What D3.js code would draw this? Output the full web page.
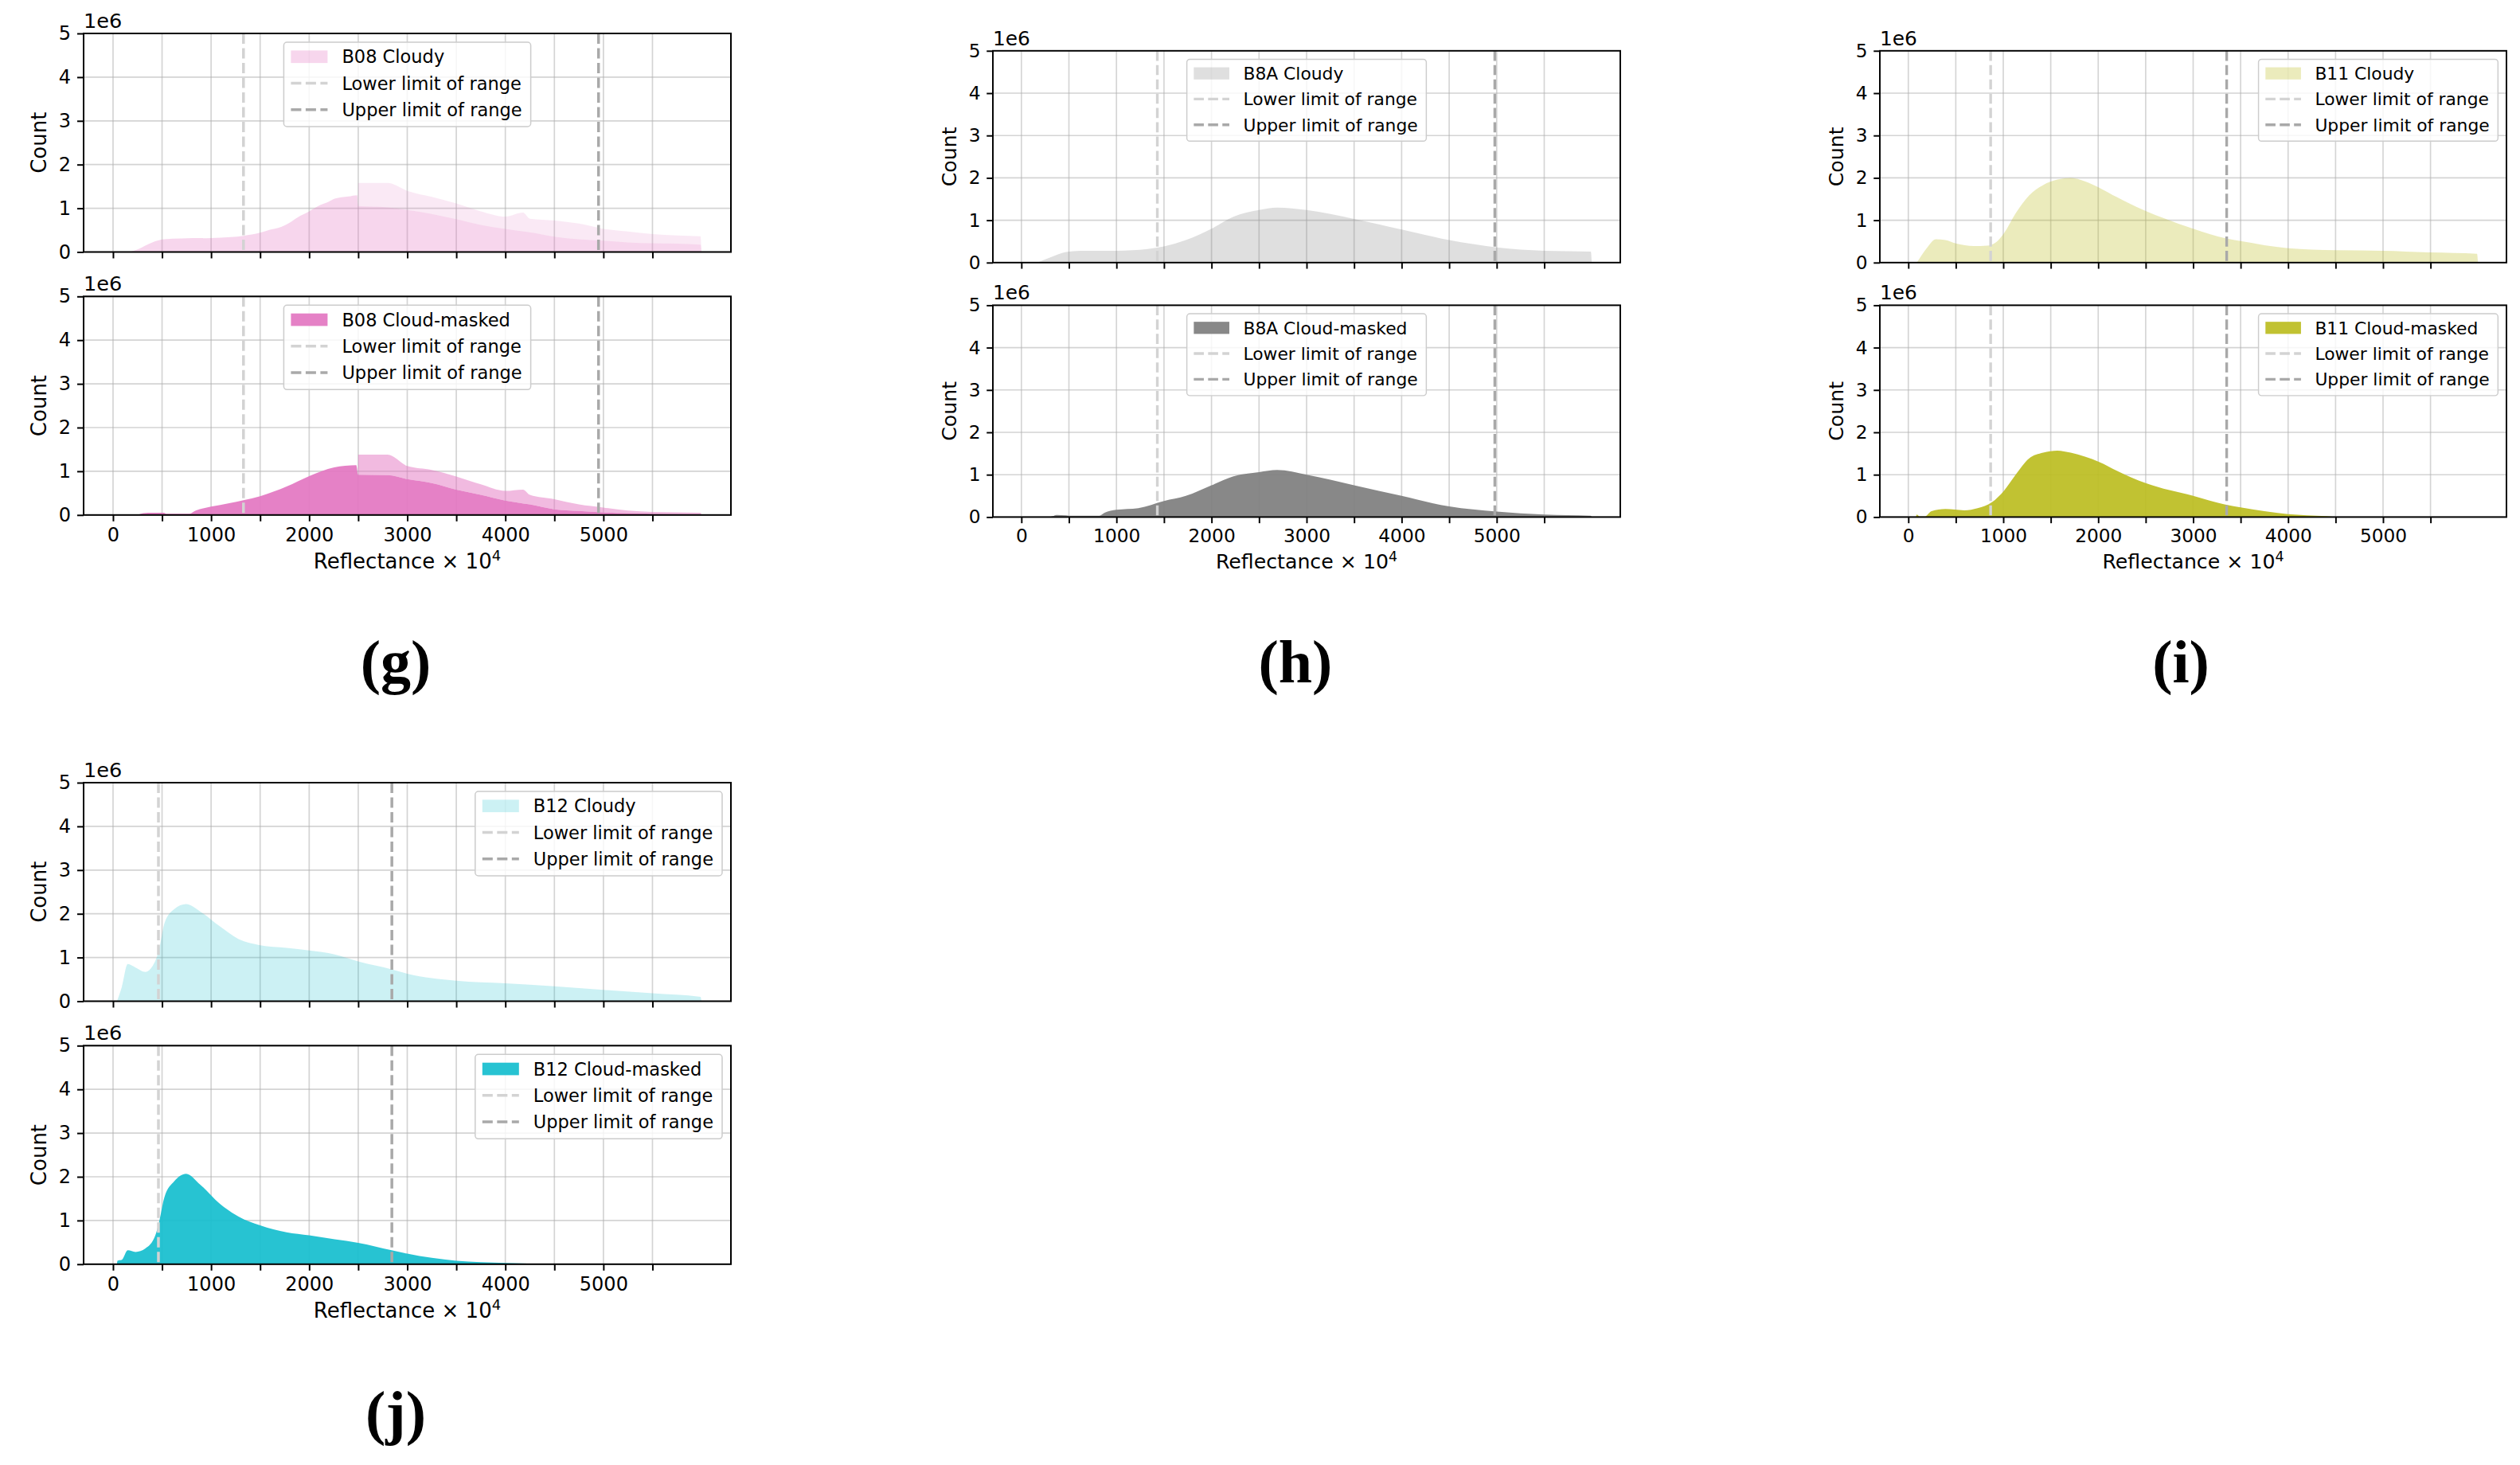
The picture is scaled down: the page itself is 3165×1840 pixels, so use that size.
<!DOCTYPE html>
<html>
<head>
<meta charset="utf-8">
<script src="https://cdn.jsdelivr.net/npm/d3@7"></script>
<style>
  body { margin: 0; background: #fff; }
  text { font-family: "DejaVu Sans", sans-serif; }
</style>
</head>
<body>
<svg id="fig"></svg>
<script>
// reflectance x 10^4 ticks and count ticks (x 1e6)
const xTicks = [0, 500, 1000, 1500, 2000, 2500, 3000, 3500, 4000, 4500, 5000, 5500];
const xLabelTicks = [0, 1000, 2000, 3000, 4000, 5000];
const yTicks = [0, 1, 2, 3, 4, 5];

// histograms: [reflectance, count in millions]
const b08Cloudy = [[170,0],[250,0.06],[400,0.22],[520,0.29],[700,0.31],[1000,0.32],[1200,0.34],[1330,0.37],[1500,0.44],[1600,0.51],[1720,0.58],[1800,0.67],[1880,0.79],[2000,0.93],[2100,1.06],[2200,1.15],[2260,1.22],[2400,1.27],[2490,1.30],[2500,1.05],[2800,1.02],[3000,0.96],[3250,0.87],[3500,0.75],[3750,0.62],[4000,0.53],[4250,0.45],[4500,0.35],[4750,0.29],[5000,0.26],[5250,0.22],[5500,0.20],[5750,0.19],[5990,0.17],[6000,0]];
const b08CloudySpikes = [[2500,1.58],[2800,1.58],[3000,1.40],[3250,1.26],[3500,1.11],[3750,0.93],[4000,0.81],[4180,0.90],[4250,0.76],[4500,0.72],[4750,0.65],[5000,0.53],[5250,0.47],[5500,0.41],[5750,0.38],[5990,0.36],[6000,0]];
const b08Masked = [[250,0],[260,0.01],[355,0.05],[520,0.05],[540,0.03],[780,0.03],[843,0.10],[1000,0.19],[1185,0.27],[1330,0.34],[1500,0.43],[1770,0.65],[2000,0.89],[2255,1.09],[2480,1.14],[2500,0.92],[2800,0.91],[3000,0.82],[3250,0.73],[3500,0.58],[3750,0.46],[4000,0.33],[4250,0.24],[4500,0.13],[4750,0.09],[5000,0.06],[5250,0.04],[5500,0.03],[5990,0.02],[6000,0]];
const b08MaskedSpikes = [[2500,1.38],[2800,1.38],[3000,1.12],[3250,1.03],[3500,0.88],[3750,0.70],[4000,0.55],[4180,0.58],[4250,0.46],[4500,0.36],[4750,0.24],[5000,0.17],[5250,0.10],[5500,0.07],[5750,0.06],[5990,0.05],[6000,0]];

const b8aCloudy = [[170,0],[300,0.12],[470,0.25],[620,0.28],[1000,0.28],[1330,0.32],[1500,0.38],[1730,0.53],[2000,0.80],[2230,1.08],[2500,1.24],[2690,1.30],[3000,1.24],[3500,1.03],[4000,0.78],[4500,0.53],[5000,0.36],[5500,0.28],[5990,0.26],[6000,0]];
const b8aMasked = [[300,0],[330,0.02],[370,0.05],[470,0.04],[500,0.03],[820,0.03],[875,0.10],[1000,0.17],[1230,0.21],[1500,0.38],[1730,0.50],[2000,0.75],[2230,0.96],[2500,1.06],[2690,1.11],[3000,1.00],[3500,0.75],[4000,0.50],[4500,0.25],[5000,0.13],[5500,0.06],[5990,0.03],[6000,0]];

const b11Cloudy = [[90,0],[200,0.36],[290,0.55],[390,0.53],[500,0.45],[690,0.39],[830,0.40],[930,0.49],[1010,0.70],[1130,1.16],[1270,1.58],[1420,1.83],[1570,1.96],[1710,2.00],[1860,1.92],[2010,1.77],[2200,1.54],[2500,1.22],[2690,1.05],[3000,0.80],[3350,0.57],[3500,0.51],[4000,0.34],[4500,0.29],[5000,0.28],[5500,0.24],[5990,0.21],[6000,0]];
const b11Masked = [[80,0],[90,0.06],[120,0.01],[170,0.01],[245,0.14],[390,0.19],[590,0.16],[730,0.21],[880,0.35],[1010,0.63],[1130,1.00],[1270,1.38],[1420,1.52],[1570,1.57],[1710,1.52],[2010,1.30],[2200,1.09],[2500,0.80],[3000,0.50],[3350,0.29],[3500,0.23],[4000,0.07],[4400,0.02],[4500,0]];

const b12Cloudy = [[40,0],[90,0.33],[150,0.85],[230,0.77],[330,0.67],[405,0.81],[470,1.18],[525,1.79],[625,2.11],[745,2.22],[890,2.05],[1090,1.71],[1280,1.42],[1500,1.28],[1770,1.22],[2000,1.16],[2260,1.07],[2500,0.91],[2840,0.73],[3000,0.63],[3500,0.47],[4000,0.41],[4500,0.34],[5000,0.26],[5500,0.18],[5990,0.10],[6000,0]];
const b12Masked = [[40,0],[45,0.08],[90,0.10],[150,0.32],[230,0.28],[330,0.36],[430,0.65],[470,0.97],[525,1.54],[625,1.90],[745,2.07],[890,1.82],[1090,1.38],[1280,1.09],[1500,0.89],[1770,0.73],[2000,0.66],[2260,0.57],[2500,0.49],[2840,0.32],[3000,0.24],[3500,0.08],[4000,0.03],[4300,0.01],[4350,0]];

// lower / upper limit of range
const b08Limits = [1330, 4950];
const b8aLimits = [1430, 4980];
const b11Limits = [867, 3353];
const b12Limits = [463, 2843];

const bands = ["B08", "B8A", "B11", "B12"];
const panelLetters = ["(g)", "(h)", "(i)", "(j)"];

const W = 3165, H = 1840;
const svg = d3.select("#fig").attr("width", W).attr("height", H);
svg.append("rect").attr("width", W).attr("height", H).attr("fill", "#fff");
const defs = svg.append("defs");

const panels = [
  { band: bands[0], letter: panelLetters[0], color: "#e377c2", fade: 0.3, cloudy: b08Cloudy, masked: b08Masked,
    cloudySpikes: b08CloudySpikes, maskedSpikes: b08MaskedSpikes, limits: b08Limits,
    left: 105, right: 918, top: 42, h: 274.5, gap: 55.8, s: 1, legend: "center", lx: 497, ly: 857 },
  { band: bands[1], letter: panelLetters[1], color: "#7f7f7f", fade: 0.25, cloudy: b8aCloudy, masked: b8aMasked,
    limits: b8aLimits, left: 1247, right: 2035, top: 63.8, h: 266, gap: 53.6, s: 0.97, legend: "center", lx: 1627, ly: 857 },
  { band: bands[2], letter: panelLetters[2], color: "#bcbd22", fade: 0.3, cloudy: b11Cloudy, masked: b11Masked,
    limits: b11Limits, left: 2361, right: 3148, top: 63.8, h: 266, gap: 53.6, s: 0.97, legend: "right", lx: 2739, ly: 857 },
  { band: bands[3], letter: panelLetters[3], color: "#17becf", fade: 0.22, cloudy: b12Cloudy, masked: b12Masked,
    limits: b12Limits, left: 105, right: 918, top: 983, h: 274.5, gap: 55.8, s: 1, legend: "right", lx: 497, ly: 1800 }
];

const dash = s => `${13 * s},${5.5 * s}`;
let maskId = 0;

const drawAxes = (p, top, masked) => {
  const s = p.s;
  const x = d3.scaleLinear().domain([-300, 6300]).range([p.left, p.right]);
  const y = d3.scaleLinear().domain([0, 5]).range([top + p.h, top]);
  const g = svg.append("g");

  // grid
  g.append("g").selectAll("line").data(xTicks).join("line")
    .attr("x1", d => x(d)).attr("x2", d => x(d)).attr("y1", top).attr("y2", top + p.h)
    .attr("stroke", "#b0b0b0").attr("stroke-opacity", 0.55).attr("stroke-width", 1.7 * s);
  g.append("g").selectAll("line").data(yTicks).join("line")
    .attr("x1", p.left).attr("x2", p.right).attr("y1", d => y(d)).attr("y2", d => y(d))
    .attr("stroke", "#b0b0b0").attr("stroke-opacity", 0.55).attr("stroke-width", 1.7 * s);

  const area = d3.area().x(d => x(d[0])).y0(y(0)).y1(d => y(d[1])).curve(d3.curveMonotoneX);
  const op = masked ? 0.93 : p.fade;
  const base = masked ? p.masked : p.cloudy;
  const spikes = masked ? p.maskedSpikes : p.cloudySpikes;
  if (spikes) {
    // the spiky upper part of the histogram, kept out of the solid part
    const id = `cut${maskId++}`;
    const m = defs.append("mask").attr("id", id).attr("maskUnits", "userSpaceOnUse")
      .attr("x", 0).attr("y", 0).attr("width", W).attr("height", H);
    m.append("rect").attr("width", W).attr("height", H).attr("fill", "#fff");
    m.append("path").datum(base).attr("d", area).attr("fill", "#000");
    g.append("path").datum(spikes).attr("d", area).attr("mask", `url(#${id})`)
      .attr("fill", p.color).attr("fill-opacity", op * 0.55);
  }
  g.append("path").datum(base).attr("d", area)
    .attr("fill", p.color).attr("fill-opacity", op);

  // range limits
  p.limits.forEach((v, i) => {
    g.append("line").attr("x1", x(v)).attr("x2", x(v)).attr("y1", top).attr("y2", top + p.h)
      .attr("stroke", i === 0 ? "#d3d3d3" : "#a9a9a9").attr("stroke-width", 3.5 * s)
      .attr("stroke-dasharray", dash(s));
  });

  // axes
  const xa = g.append("g").attr("transform", `translate(0,${top + p.h})`)
    .call(d3.axisBottom(x).tickValues(xTicks).tickSize(8 * s).tickPadding(8 * s)
      .tickFormat(d => masked && xLabelTicks.includes(d) ? d : ""));
  const ya = g.append("g").attr("transform", `translate(${p.left},0)`)
    .call(d3.axisLeft(y).tickValues(yTicks).tickSize(8 * s).tickPadding(8 * s).tickFormat(d3.format("d")));
  [xa, ya].forEach(a => {
    a.select(".domain").remove();
    a.attr("font-family", "DejaVu Sans").attr("font-size", 24 * s);
    a.selectAll("line").attr("stroke", "#000").attr("stroke-width", 2 * s);
    a.selectAll("text").attr("fill", "#000");
  });

  g.append("rect").attr("x", p.left).attr("y", top).attr("width", p.right - p.left).attr("height", p.h)
    .attr("fill", "none").attr("stroke", "#000").attr("stroke-width", 2 * s);

  g.append("text").attr("x", p.left).attr("y", top - 7.5 * s)
    .attr("font-size", 25.6 * s).text("1e6");
  g.append("text").attr("transform", `translate(${p.left - 47.5 * s},${top + p.h / 2}) rotate(-90)`)
    .attr("text-anchor", "middle").attr("font-size", 26 * s).text("Count");

  if (masked) {
    const xl = g.append("text").attr("x", (p.left + p.right) / 2).attr("y", top + p.h + 67 * s)
      .attr("text-anchor", "middle").attr("font-size", 26 * s);
    xl.append("tspan").text("Reflectance \u00d7 10");
    xl.append("tspan").attr("font-size", 18 * s).attr("dy", -10 * s).text("4");
  }

  // legend
  const rows = [
    { label: `${p.band} ${masked ? "Cloud-masked" : "Cloudy"}`, patch: true },
    { label: "Lower limit of range", stroke: "#d3d3d3" },
    { label: "Upper limit of range", stroke: "#a9a9a9" }
  ];
  const lg = g.append("g");
  const box = lg.append("rect");
  const texts = lg.selectAll("text").data(rows).join("text")
    .attr("font-size", 22.5 * s).text(d => d.label);
  const maxW = d3.max(texts.nodes(), n => n.getComputedTextLength());
  const bw = 73 * s + maxW + 11 * s, bh = 106 * s;
  const bt = top + 11 * s;
  const bl = p.legend === "center" ? (p.left + p.right) / 2 - bw / 2 : p.right - 11 * s - bw;
  box.attr("x", bl).attr("y", bt).attr("width", bw).attr("height", bh).attr("rx", 4 * s)
    .attr("fill", "#fff").attr("fill-opacity", 0.8).attr("stroke", "#cccccc").attr("stroke-width", 1.5 * s);
  const rowY = i => bt + 18.2 * s + i * 33.3 * s;
  texts.attr("x", bl + 73 * s).attr("y", (d, i) => rowY(i) + 8.2 * s);
  rows.forEach((r, i) => {
    if (r.patch) {
      lg.append("rect").attr("x", bl + 9 * s).attr("y", rowY(i) - 7.8 * s)
        .attr("width", 46 * s).attr("height", 15.7 * s).attr("fill", p.color).attr("fill-opacity", op);
    } else {
      lg.append("line").attr("x1", bl + 9 * s).attr("x2", bl + 55 * s).attr("y1", rowY(i)).attr("y2", rowY(i))
        .attr("stroke", r.stroke).attr("stroke-width", 3.5 * s).attr("stroke-dasharray", dash(s));
    }
  });
};

panels.forEach(p => {
  drawAxes(p, p.top, false);
  drawAxes(p, p.top + p.h + p.gap, true);
  svg.append("text").attr("x", p.lx).attr("y", p.ly).attr("text-anchor", "middle")
    .style("font-family", "'Liberation Serif', serif").attr("font-weight", "bold")
    .attr("font-size", 76).text(p.letter);
});
</script>
</body>
</html>
